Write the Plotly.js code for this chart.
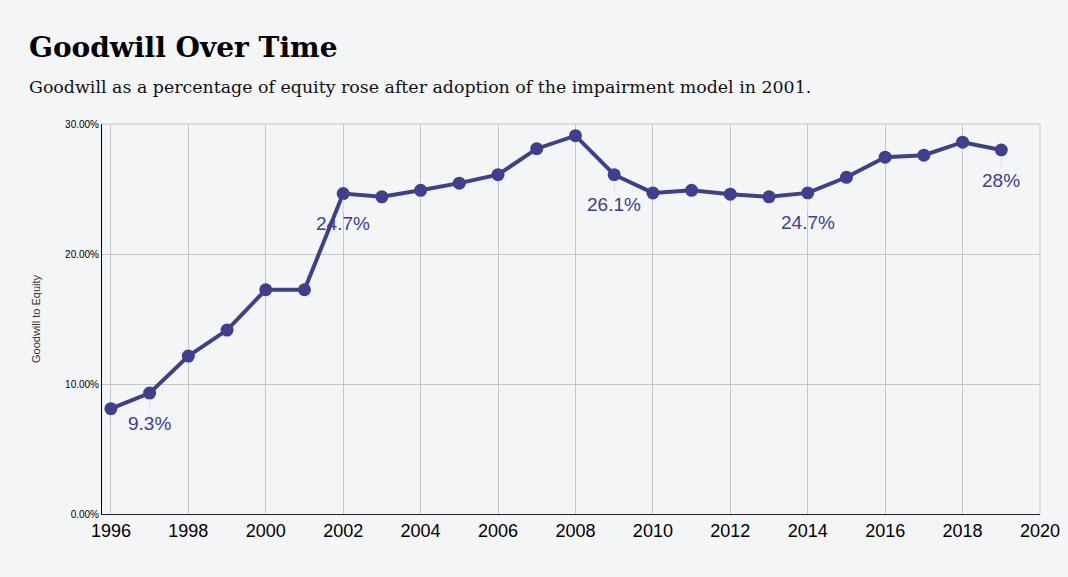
<!DOCTYPE html>
<html>
<head>
<meta charset="utf-8">
<script src="https://cdn.plot.ly/plotly-3.0.1.min.js"></script>
<style>html,body{margin:0;padding:0;background:#f4f5f7;}#chart{width:1068px;height:577px;}</style>
</head>
<body>
<div id="chart"></div>
<script>
const years = [1996,1997,1998,1999,2000,2001,2002,2003,2004,2005,2006,2007,2008,2009,2010,2011,2012,2013,2014,2015,2016,2017,2018,2019];
const goodwillToEquity = [8.1,9.3,12.15,14.15,17.25,17.25,24.65,24.4,24.9,25.45,26.1,28.1,29.1,26.1,24.7,24.9,24.6,24.4,24.7,25.9,27.45,27.6,28.6,28.0];
const labelYears = [1997,2002,2009,2014,2019];
const labelTexts = ['9.3%','24.7%','26.1%','24.7%','28%'];
const xTicks = [1996,1998,2000,2002,2004,2006,2008,2010,2012,2014,2016,2018,2020];
const yTicks = [0,10,20,30];
const yTickLabels = ['0.00%','10.00%','20.00%','30.00%'];

const color = '#3f3f8f';
const annotations = labelYears.map((yr,i)=>({
  x: yr, y: goodwillToEquity[years.indexOf(yr)], xref:'x', yref:'y',
  text: labelTexts[i], showarrow:true, arrowhead:0, arrowwidth:1, arrowcolor:'#e2e3e6',
  ax:0, ay:30, standoff:6, font:{family:'Liberation Sans, Arial, sans-serif', size:19, color:color}
}));
annotations.push({
  xref:'paper', yref:'paper', x:(27-102)/938, y:1.0+ (124-87)/390, xanchor:'left', yanchor:'middle',
  text:'Goodwill as a percentage of equity rose after adoption of the impairment model in 2001.',
  showarrow:false, font:{family:'DejaVu Serif, Georgia, serif', size:17.4, color:'#111'}
});

Plotly.newPlot('chart', [{
  x: years, y: goodwillToEquity, type:'scatter', mode:'lines+markers',
  line:{color:color, width:4}, marker:{color:color, size:13},
  hoverinfo:'skip'
}], {
  width:1068, height:577,
  paper_bgcolor:'#f4f5f7', plot_bgcolor:'#f4f5f7',
  margin:{l:102, r:28, t:124, b:63},
  showlegend:false,
  title:{text:'<b>Goodwill Over Time</b>', xref:'container', yref:'container', x:29/1068, xanchor:'left', y:1-47/577, yanchor:'middle',
    font:{family:'DejaVu Serif, Georgia, serif', size:28, color:'#000'}},
  xaxis:{range:[1995.77,2020], tickvals:xTicks, ticktext:xTicks.map(String), showgrid:true, gridcolor:'#c6c7ca', gridwidth:1,
    zeroline:false, showline:true, linecolor:'#222', linewidth:1, mirror:false, ticks:'',
    tickfont:{family:'Liberation Sans, Arial, sans-serif', size:18, color:'#000'}},
  yaxis:{range:[0,30], tickvals:yTicks, ticktext:yTickLabels, showgrid:true, gridcolor:'#c6c7ca', gridwidth:1,
    zeroline:false, showline:true, linecolor:'#000', linewidth:1, ticks:'', ticklen:0,
    tickfont:{family:'Liberation Sans, Arial, sans-serif', size:10, color:'#000'},
    title:{text:'Goodwill to Equity', standoff:22, font:{family:'Liberation Sans, Arial, sans-serif', size:11, color:'#333'}}},
  shapes:[{type:'line', xref:'paper', yref:'paper', x0:1, x1:1, y0:0, y1:1, line:{color:'#c6c7ca', width:1}},
          {type:'line', xref:'paper', yref:'paper', x0:0, x1:1, y0:1, y1:1, line:{color:'#c6c7ca', width:1}}],
  annotations: annotations
}, {displayModeBar:false, staticPlot:true});
</script>
</body>
</html>
